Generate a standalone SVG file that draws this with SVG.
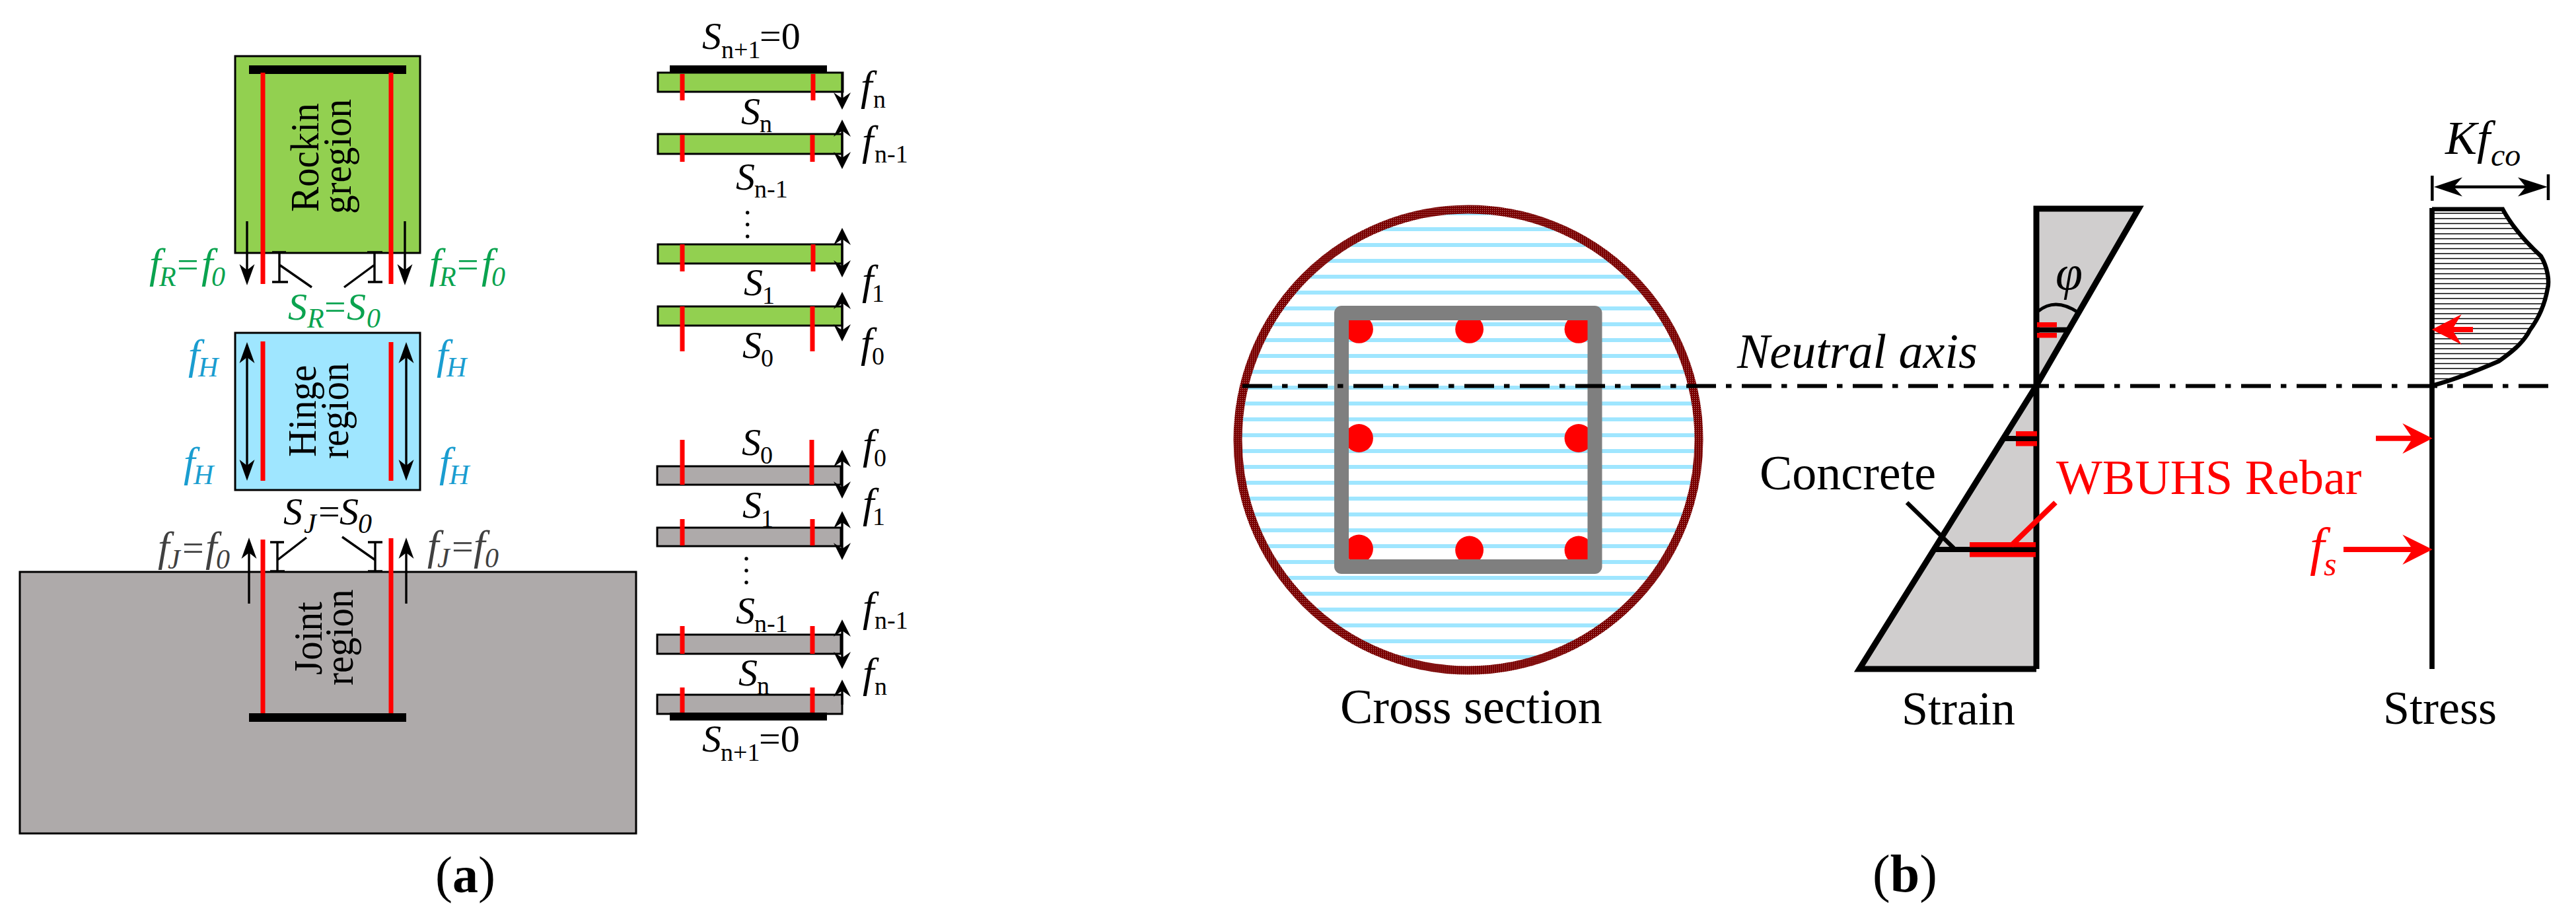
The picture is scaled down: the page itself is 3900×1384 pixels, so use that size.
<svg xmlns="http://www.w3.org/2000/svg" width="3900" height="1384" viewBox="0 0 3900 1384">
<style>
text{font-family:"Liberation Serif","Times New Roman",serif;fill:#000}
.i{font-style:italic}
.n{font-style:normal}
.m{font-size:57px}
.l{font-size:58px}
.f{font-size:63px;font-style:italic}
.s{font-size:38px}
.s2{font-size:42px}
.c{font-size:74px}
.g{fill:#0aa34f}
.b{fill:#1a9dd0}
.d{fill:#404040}
.r{fill:#f00}
.box{stroke:#000;stroke-width:3}
.grn{fill:#92d050}
.blu{fill:#9fe6ff}
.gry{fill:#aeaaaa}
.rb{stroke:#f00;stroke-width:7;fill:none}
.k{stroke:#000;stroke-width:3.400;fill:none}
.kt{stroke:#000;stroke-width:3.400;fill:none}
.a1{marker-end:url(#al)}
.a2{marker-start:url(#al);marker-end:url(#al)}
.a3{marker-end:url(#as)}
.a4{marker-start:url(#as);marker-end:url(#as)}
.dash{stroke:#000;stroke-width:6;stroke-dasharray:45 15 8.5 15.5;fill:none}
</style>
<defs>
<marker id="al" markerUnits="userSpaceOnUse" markerWidth="32" markerHeight="26" refX="26" refY="13" orient="auto-start-reverse" viewBox="0 0 32 26"><path d="M0 1.500L32 13L0 24.500L9 13Z" fill="#000"/></marker>
<marker id="as" markerUnits="userSpaceOnUse" markerWidth="26" markerHeight="28" refX="20" refY="14" orient="auto-start-reverse" viewBox="0 0 26 28"><path d="M0 1L26 14L0 27L9 14Z" fill="#000"/></marker>
<clipPath id="cc"><circle cx="2223" cy="666" r="349"/></clipPath>
<clipPath id="st"><path d="M3682 317H3789C3800 337 3820 363 3847 388C3857 405 3860 425 3857 437C3853 460 3845 480 3830 500C3820 520 3800 535 3783 547C3760 557 3720 574 3682 584Z"/></clipPath>
<pattern id="dots" width="3" height="3" patternUnits="userSpaceOnUse"><rect width="3" height="3" fill="#7a0000"/><rect width="1" height="1" fill="#fff" opacity=".55"/></pattern>
</defs>

<g id="rocking-region">
<rect class="box grn" x="356" y="85" width="280" height="298"/>
<rect x="377" y="99" width="238" height="13" fill="#000"/>
<path class="rb" d="M398 110V430M592 110V430"/>
<text class="m" transform="translate(482,321) rotate(-90) scale(1,1.08)">Rockin</text>
<text class="m" transform="translate(531,324) rotate(-90) scale(1,1.08)">gregion</text>
</g>

<g id="hinge-region">
<rect class="box blu" x="356" y="504" width="280" height="238"/>
<path class="rb" d="M398 517V728M592 518V728"/>
<text class="m" transform="translate(478,692) rotate(-90) scale(1,1.08)">Hinge</text>
<text class="m" transform="translate(527,695) rotate(-90) scale(1,1.08)">region</text>
</g>

<g id="joint-region">
<rect class="box gry" x="30" y="866" width="933" height="396"/>
<path class="rb" d="M398 817V1082M592 815V1082"/>
<rect x="377" y="1080" width="238" height="13" fill="#000"/>
<text class="m" transform="translate(487,1022) rotate(-90) scale(1,1.08)">Joint</text>
<text class="m" transform="translate(534,1038) rotate(-90) scale(1,1.08)">region</text>
</g>

<g id="rocking-strips">
<rect x="1014" y="99" width="238" height="12" fill="#000"/>
<rect class="box grn" x="996" y="110" width="280" height="29"/>
<rect class="box grn" x="996" y="203" width="279" height="30"/>
<rect class="box grn" x="996" y="370" width="279" height="29"/>
<rect class="box grn" x="996" y="464" width="279" height="29"/>
<path class="rb" d="M1033 112V152M1231 112V152M1033 204V245M1230 204V245M1033 370V411M1231 370V411M1033 464V532M1230 464V532"/>
<circle cx="1131.700" cy="322" r="2.700"/><circle cx="1131.700" cy="340" r="2.700"/><circle cx="1131.700" cy="358" r="2.700"/>
</g>

<g id="joint-strips">
<rect class="box gry" x="995" y="706" width="278" height="28"/>
<rect class="box gry" x="995" y="799" width="278" height="28"/>
<rect class="box gry" x="995" y="961" width="278" height="29"/>
<rect class="box gry" x="995" y="1052" width="280" height="29"/>
<rect x="1014" y="1079" width="238" height="12" fill="#000"/>
<path class="rb" d="M1033 666V734M1229 666V734M1033 786V826M1230 786V826M1033 948V990M1230 948V990M1033 1041V1079M1230 1041V1079"/>
<circle cx="1130" cy="846" r="2.700"/><circle cx="1130" cy="864" r="2.700"/><circle cx="1130" cy="882" r="2.700"/>
</g>

<g id="cross-section">
<g clip-path="url(#cc)"><path stroke="#9fe6ff" stroke-width="6" fill="none" d="M1860 323H2590M1860 347H2590M1860 371H2590M1860 395H2590M1860 419H2590M1860 443H2590M1860 467H2590M1860 491H2590M1860 515H2590M1860 539H2590M1860 563H2590M1860 587H2590M1860 611H2590M1860 635H2590M1860 659H2590M1860 683H2590M1860 707H2590M1860 731H2590M1860 755H2590M1860 779H2590M1860 803H2590M1860 827H2590M1860 851H2590M1860 875H2590M1860 899H2590M1860 923H2590M1860 947H2590M1860 971H2590M1860 995H2590"/></g>
<circle cx="2223" cy="666" r="349" fill="none" stroke="url(#dots)" stroke-width="13"/>
<g fill="#f00">
<circle cx="2057.500" cy="498.400" r="21.400"/><circle cx="2224.600" cy="498.400" r="21.400"/><circle cx="2390" cy="498.400" r="21.400"/>
<circle cx="2057.500" cy="663.500" r="21.400"/><circle cx="2390" cy="663.500" r="21.400"/>
<circle cx="2057.500" cy="831" r="21.400"/><circle cx="2224.600" cy="833" r="21.400"/><circle cx="2390" cy="833" r="21.400"/>
</g>
<rect x="2031" y="474" width="383.500" height="384" fill="none" stroke="#7f7f7f" stroke-width="22" stroke-linejoin="round"/>
</g>

<g id="strain">
<path fill="#d0cece" d="M3083 316H3240L3083 584Z"/>
<path fill="#d0cece" d="M3083 584V1013H2815Z"/>
<path fill="none" stroke="#000" stroke-width="5" d="M3086 471Q3112 450 3146 473"/>
<path fill="none" stroke="#000" stroke-width="8" d="M3084 499.500H3132M3035 664H3084M2928 832H3084"/>
<path fill="none" stroke="#000" stroke-width="9" stroke-linejoin="miter" stroke-miterlimit="10" d="M3083 1013V316H3238L3083 584L2815 1013H3083"/>
<path fill="#f00" d="M3084 488h30v7.500h-30zM3084 504h30v7.500h-30zM3052 653h32v7.500h-32zM3052 668h32v7.500h-32zM2982 821h100v7.500h-100zM2982 836h100v7.500h-100z"/>
</g>

<g id="stress">
<g clip-path="url(#st)"><path stroke="#000" stroke-width="1.500" fill="none" d="M3682 323H3870M3682 331H3870M3682 338.500H3870M3682 346H3870M3682 354H3870M3682 361.500H3870M3682 369H3870M3682 376.500H3870M3682 384H3870M3682 391.500H3870M3682 399H3870M3682 407H3870M3682 414.500H3870M3682 422H3870M3682 429.500H3870M3682 437H3870M3682 444.500H3870M3682 452H3870M3682 460H3870M3682 467.500H3870M3682 475H3870M3682 482.500H3870M3682 490H3870M3682 497.500H3870M3682 505H3870M3682 513H3870M3682 520.500H3870M3682 528H3870M3682 535.500H3870M3682 543H3870M3682 550.500H3870M3682 558H3870M3682 566H3870M3682 573.500H3870"/></g>
<path fill="none" stroke="#000" stroke-width="6.500" d="M3682 316.700H3789C3800 337 3820 363 3847 388C3857 405 3860 425 3857 437C3853 460 3845 480 3830 500C3820 520 3800 535 3783 547C3760 557 3720 574 3682 584"/>
<path fill="none" stroke="#000" stroke-width="7.700" d="M3682 315V1013"/>
<path fill="none" stroke="#000" stroke-width="4.500" d="M3682.300 266V304M3858 264V303M3700 283H3840"/>
<path fill="#000" d="M3685 283L3728 268.500L3715 283L3728 297.500ZM3857 283L3812 268.500L3824 283L3812 297.500Z"/>
<path fill="#f00" d="M3681.700 499L3726.700 476L3715 495H3744V503H3715L3726.700 521.700Z"/>
<path fill="#f00" d="M3682.700 663.700L3637.300 641L3650 659.700H3597V667.700H3650L3637.300 687Z"/>
<path fill="#f00" d="M3682.700 832L3637.300 809.500L3650 828H3548V836H3650L3637.300 855Z"/>
</g>

<g id="connectors">
<path class="k a1" d="M374 335V426"/>
<path class="k a1" d="M613 335V426"/>
<path class="k a2" d="M374 524V722"/>
<path class="k a2" d="M615 524V722"/>
<path class="k a1" d="M377 914V820"/>
<path class="k a1" d="M615 914V820"/>
<path class="k" d="M412 382H433M423 382V427M412 427H436M423 401L472 435M556 382H579M567 382V427M557 427H579M567 401L521 435"/>
<path class="k" d="M409 821H430M420 821V865M409 865H431M420 848L464 814M557 821H579M568 821V865M557 865H579M568 848L518 813"/>
<path class="kt a3" d="M1275 110V160"/>
<path class="kt a4" d="M1275 187V250"/>
<path class="kt a4" d="M1275 351V414"/>
<path class="kt a4" d="M1275 448V511"/>
<path class="kt a4" d="M1275 687V749"/>
<path class="kt a4" d="M1275 780V842"/>
<path class="kt a4" d="M1275 944V1007"/>
<path class="kt a3" d="M1275 1067V1035"/>
<path stroke="#000" stroke-width="6.500" fill="none" d="M2887 761L2958 830"/>
<path stroke="#f00" stroke-width="8" fill="none" d="M3112 761L3045 826"/>
<path class="dash" d="M1881 584.400H3858"/>
</g>

<g id="labels">
<text class="l i g"><tspan class="f" x="226" y="420">f</tspan><tspan class="s2" x="241" y="433">R</tspan><tspan class="n" x="268" y="420">=</tspan><tspan class="f" x="305" y="420">f</tspan><tspan class="s2" x="320" y="433">0</tspan></text>
<text class="l i g"><tspan class="f" x="650" y="420">f</tspan><tspan class="s2" x="665" y="433">R</tspan><tspan class="n" x="692" y="420">=</tspan><tspan class="f" x="729" y="420">f</tspan><tspan class="s2" x="744" y="433">0</tspan></text>
<text class="l i g"><tspan x="436" y="484">S</tspan><tspan class="s2" x="465" y="496">R</tspan><tspan class="n" x="491" y="484">=</tspan><tspan x="525" y="484">S</tspan><tspan class="s2" x="555" y="496">0</tspan></text>
<text class="l i b"><tspan class="f" x="285" y="558">f</tspan><tspan class="s2" x="300" y="570">H</tspan></text>
<text class="l i b"><tspan class="f" x="661" y="558">f</tspan><tspan class="s2" x="676" y="570">H</tspan></text>
<text class="l i b"><tspan class="f" x="278" y="721">f</tspan><tspan class="s2" x="293" y="733">H</tspan></text>
<text class="l i b"><tspan class="f" x="665" y="721">f</tspan><tspan class="s2" x="680" y="733">H</tspan></text>
<text class="l i"><tspan x="429" y="794">S</tspan><tspan class="s2" x="460" y="807">J</tspan><tspan class="n" x="482" y="794">=</tspan><tspan x="514" y="794">S</tspan><tspan class="s2" x="542" y="807">0</tspan></text>
<text class="l i d"><tspan class="f" x="239" y="849">f</tspan><tspan class="s2" x="254" y="861">J</tspan><tspan class="n" x="276" y="849">=</tspan><tspan class="f" x="311" y="849">f</tspan><tspan class="s2" x="327" y="861">0</tspan></text>
<text class="l i d"><tspan class="f" x="647" y="847">f</tspan><tspan class="s2" x="662" y="859">J</tspan><tspan class="n" x="684" y="847">=</tspan><tspan class="f" x="717" y="847">f</tspan><tspan class="s2" x="734" y="859">0</tspan></text>
<text x="659" y="1351" font-size="78">(<tspan font-weight="bold">a</tspan>)</text>

<text class="l"><tspan class="i" x="1063" y="74">S</tspan><tspan class="s" x="1092" y="88">n+1</tspan><tspan x="1150" y="74">=0</tspan></text>
<text class="l"><tspan class="i" x="1122" y="188">S</tspan><tspan class="s" x="1150" y="200">n</tspan></text>
<text class="l"><tspan class="f" x="1303" y="151">f</tspan><tspan class="s" x="1322" y="163">n</tspan></text>
<text class="l"><tspan class="f" x="1305" y="234">f</tspan><tspan class="s" x="1324" y="246">n-1</tspan></text>
<text class="l"><tspan class="i" x="1114" y="287">S</tspan><tspan class="s" x="1142" y="299">n-1</tspan></text>
<text class="l"><tspan class="i" x="1126" y="447">S</tspan><tspan class="s" x="1154" y="460">1</tspan></text>
<text class="l"><tspan class="f" x="1305" y="445">f</tspan><tspan class="s" x="1320" y="457">1</tspan></text>
<text class="l"><tspan class="i" x="1124" y="542">S</tspan><tspan class="s" x="1152" y="555">0</tspan></text>
<text class="l"><tspan class="f" x="1303" y="540">f</tspan><tspan class="s" x="1320" y="552">0</tspan></text>
<text class="l"><tspan class="i" x="1123" y="689">S</tspan><tspan class="s" x="1151" y="702">0</tspan></text>
<text class="l"><tspan class="f" x="1306" y="694">f</tspan><tspan class="s" x="1323" y="706">0</tspan></text>
<text class="l"><tspan class="i" x="1124" y="784">S</tspan><tspan class="s" x="1152" y="798">1</tspan></text>
<text class="l"><tspan class="f" x="1306" y="783">f</tspan><tspan class="s" x="1321" y="795">1</tspan></text>
<text class="l"><tspan class="i" x="1114" y="944">S</tspan><tspan class="s" x="1142" y="957">n-1</tspan></text>
<text class="l"><tspan class="f" x="1306" y="940">f</tspan><tspan class="s" x="1324" y="952">n-1</tspan></text>
<text class="l"><tspan class="i" x="1118" y="1038">S</tspan><tspan class="s" x="1146" y="1051">n</tspan></text>
<text class="l"><tspan class="f" x="1306" y="1040">f</tspan><tspan class="s" x="1324" y="1052">n</tspan></text>
<text class="l"><tspan class="i" x="1063" y="1138">S</tspan><tspan class="s" x="1091" y="1152">n+1</tspan><tspan x="1149" y="1138">=0</tspan></text>

<text class="c" x="2029" y="1095">Cross section</text>
<text class="i" x="2630" y="557" font-size="74">Neutral axis</text>
<text class="c" x="2664" y="741">Concrete</text>
<text class="r c" x="3113" y="748">WBUHS Rebar</text>
<text class="i" x="3112" y="438" font-size="74">φ</text>
<text x="2879" y="1097" font-size="72">Strain</text>
<text x="3608" y="1096" font-size="72">Stress</text>
<text class="i"><tspan font-size="72" x="3702" y="233">Kf</tspan><tspan font-size="48" x="3771" y="251">co</tspan></text>
<text class="i r"><tspan font-size="80" x="3497" y="855">f</tspan><tspan font-size="50" x="3518" y="871">s</tspan></text>
<text x="2835" y="1350" font-size="80">(<tspan font-weight="bold">b</tspan>)</text>
</g>
</svg>
